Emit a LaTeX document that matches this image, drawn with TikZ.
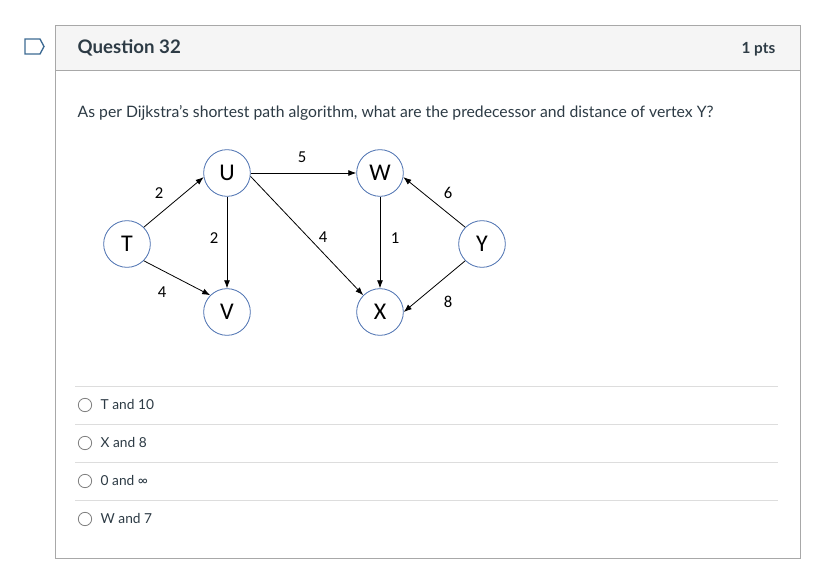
\documentclass[tikz,border=0pt]{standalone}
\usepackage{fontspec}
\setmainfont{Lato}
\newfontfamily\carlito{Carlito}
\usetikzlibrary{arrows,arrows.meta}
\definecolor{canvastext}{HTML}{2D3B45}
\definecolor{boxline}{HTML}{A8A8A8}
\definecolor{headfill}{HTML}{F5F5F5}
\definecolor{rulegray}{HTML}{DDDDDD}
\definecolor{vertexblue}{HTML}{4A70B0}
\definecolor{iconblue}{HTML}{3D6A93}

\begin{document}
\begin{tikzpicture}[x=0.75pt,y=-0.75pt,
  vertex/.style={circle,draw=vertexblue,line width=0.6pt,minimum size=35pt,inner sep=0pt,font=\carlito\fontsize{18}{21}\selectfont},
  weight/.style={font=\carlito\fontsize{12.5}{14}\selectfont},
  edge/.style={-{Latex[length=6pt,width=4.5pt]},line width=0.6pt},
  answer/.style={anchor=west,font=\fontsize{10.3}{12}\selectfont,text=canvastext},
  radio/.style={circle,draw=gray,line width=0.6pt,minimum size=10pt,inner sep=0pt}]
\useasboundingbox (0,0) rectangle (828,566);
\fill[white] (0,0) rectangle (828,566);
\draw[boxline,fill=headfill] (55,25) rectangle (800,70);
\draw[boxline] (55,70) rectangle (800,558);
\draw[iconblue,line width=1pt] (25,39) -- (40,39) -- (44,46.5) -- (40,54) -- (25,54) -- cycle;
\node[anchor=west,text=canvastext,font=\bfseries\fontsize{14}{16}\selectfont] (title) at (73,48) {Question 32};
\node[anchor=east,text=canvastext,font=\bfseries\fontsize{11.5}{13}\selectfont] (points) at (780,49) {1 pts};
\node[anchor=west,text=canvastext,font=\fontsize{11.8}{14}\selectfont] (question) at (73,113) {As per Dijkstra{\char"27}s shortest path algorithm, what are the predecessor and distance of vertex Y?};

\node[vertex] (T) at (127,244) {T};
\node[vertex] (U) at (227,173) {U};
\node[vertex] (V) at (227,312) {V};
\node[vertex] (W) at (380,173) {W};
\node[vertex] (X) at (380,312) {X};
\node[vertex] (Y) at (482,244) {Y};

\draw[edge] (T.45) -- (U.190);
\draw[edge] (T.-45) -- (V.135);
\draw[edge] (U.south) -- (V.north);
\draw[edge] (U.east) -- (W.west);
\draw[edge] (U.-8) -- (X.135);
\draw[edge] (W.south) -- (X.north);
\draw[edge] (Y.135) -- (W.-10);
\draw[edge] (Y.-135) -- (X.east);

\node[weight] (wTU) at (159,193) {2};
\node[weight] (wTV) at (162,292) {4};
\node[weight] (wUV) at (214,238) {2};
\node[weight] (wUW) at (302,157) {5};
\node[weight] (wUX) at (323,237) {4};
\node[weight] (wWX) at (395,238) {1};
\node[weight] (wYW) at (448,193) {6};
\node[weight] (wYX) at (448,302) {8};

\draw[rulegray] (75,386) -- (778,386);
\draw[rulegray] (75,424) -- (778,424);
\draw[rulegray] (75,462) -- (778,462);
\draw[rulegray] (75,500) -- (778,500);

\node[radio] (r1) at (85,405) {};
\node[radio] (r2) at (85,443) {};
\node[radio] (r3) at (85,481) {};
\node[radio] (r4) at (85,519) {};
\node[answer] (a1) at (96,404) {T and 10};
\node[answer] (a2) at (96,442) {X and 8};
\node[answer] (a3) at (96,480) {0 and \symbol{"221E}};
\node[answer] (a4) at (96,518) {W and 7};
\end{tikzpicture}
\end{document}
